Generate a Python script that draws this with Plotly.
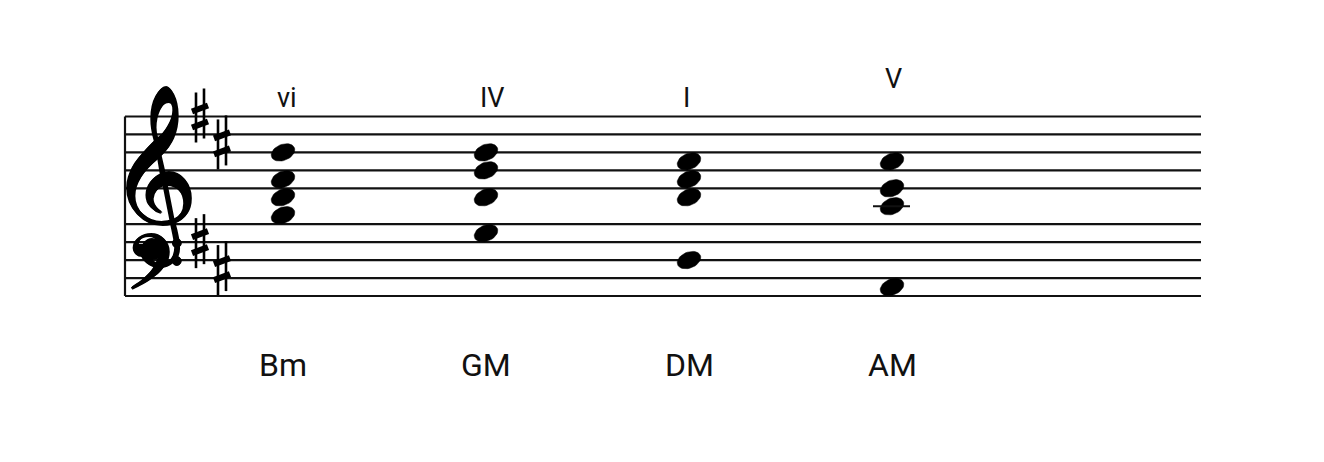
import numpy as np
import plotly.graph_objects as go

# chord data: pitches as diatonic steps from middle C (C4 = 0)
chord_names = ['Bm', 'GM', 'DM', 'AM']
roman_numerals = ['vi', 'IV', 'I', 'V']
chord_pitches = [
    [-1, 1, 3, 6],    # B3 D4 F#4 B4
    [-3, 1, 4, 6],    # G3 D4 G4 B4
    [-6, 1, 3, 5],    # D3 D4 F#4 A4
    [-9, 0, 2, 5],    # A2 C#4 E4 A4
]
treble_lines = [2, 4, 6, 8, 10]        # E4 G4 B4 D5 F5
bass_lines = [-10, -8, -6, -4, -2]     # G2 B2 D3 F3 A3
key_sharps_treble = [10, 7]            # F5, C5
key_sharps_bass = [-4, -7]             # F3, C3

# page body has an 8px margin, so the figure is a bit smaller than the window
PAGE_MARGIN = 8
W, H = 1324 - 2 * PAGE_MARGIN, 462 - 2 * PAGE_MARGIN
PX_X = 203.0      # pixels per chord slot
PX_Y = 8.975      # pixels per diatonic step
X0 = -(283.0 - PAGE_MARGIN) / PX_X
Y_TOP = (206.25 - PAGE_MARGIN) / PX_Y


def px(dx):
    return dx / PX_X


def py(dy):
    return dy / PX_Y


def ypix(p):
    # window pixel row -> step value
    return (206.25 - p) / PX_Y


fig = go.Figure()

# staff lines
x_start, x_end = px(125 - 283), px(1201 - 283)
sx, sy = [], []
for ln in treble_lines + bass_lines:
    sx += [x_start, x_end, None]
    sy += [ln, ln, None]
fig.add_trace(go.Scatter(x=sx, y=sy, mode='lines', line=dict(color='#111', width=2.2),
                         hoverinfo='skip', showlegend=False))
# left barline
fig.add_trace(go.Scatter(x=[x_start, x_start], y=[bass_lines[0], treble_lines[-1]], mode='lines',
                         line=dict(color='#111', width=2.2), hoverinfo='skip', showlegend=False))

# noteheads as tilted ellipses
t = np.linspace(0, 2 * np.pi, 40)
a, b, th = 12.3, 8.0, np.radians(22)
ex = a * np.cos(t) * np.cos(th) - b * np.sin(t) * np.sin(th)
ey = a * np.cos(t) * np.sin(th) + b * np.sin(t) * np.cos(th)
nx, ny = [], []
lx, ly = [], []
for i, notes in enumerate(chord_pitches):
    for p in notes:
        nx += list(i + px(ex)) + [None]
        ny += list(p + py(ey)) + [None]
        if p == 0:
            lx += [i - px(19), i + px(18), None]
            ly += [0, 0, None]
fig.add_trace(go.Scatter(x=nx, y=ny, mode='lines', fill='toself', fillcolor='#000',
                         line=dict(color='#000', width=0.5), hoverinfo='skip', showlegend=False))
fig.add_trace(go.Scatter(x=lx, y=ly, mode='lines', line=dict(color='#111', width=2),
                         hoverinfo='skip', showlegend=False))

# key signature sharps
vx, vy, bx, by = [], [], [], []
for k, p in enumerate(key_sharps_treble + key_sharps_bass):
    cx = px(200 - 283) + (k % 2) * px(22)
    for dx, y0, y1 in [(-4, 24, -26), (4, 28, -22)]:
        vx += [cx + px(dx), cx + px(dx), None]
        vy += [p + py(y0), p + py(y1), None]
    for y0, y1 in [(5, 11), (-11, -5)]:
        bx += [cx + px(-8), cx + px(8), None]
        by += [p + py(y0), p + py(y1), None]
fig.add_trace(go.Scatter(x=vx, y=vy, mode='lines', line=dict(color='#000', width=2.6),
                         hoverinfo='skip', showlegend=False))
fig.add_trace(go.Scatter(x=bx, y=by, mode='lines', line=dict(color='#000', width=6),
                         hoverinfo='skip', showlegend=False))

# clefs (slight shadow to thicken the strokes)
bold = '0.7px 0 0 #000, -0.7px 0 0 #000, 0 0.7px 0 #000, 0 -0.7px 0 #000'
fig.add_annotation(x=px(153.5 - 283), y=ypix(175), text='\U0001D11E', showarrow=False,
                   font=dict(size=151, color='#000', family='DejaVu Sans', shadow=bold))
fig.add_annotation(x=px(154.5 - 283), y=ypix(272), text='\U0001D122', showarrow=False,
                   font=dict(size=92, color='#000', family='DejaVu Sans', shadow=bold))

# roman numerals and chord names
roman_y = [98, 98, 98, 79]
roman_dx = [4, 6, -3, 1]
for i, (rn, ry, rdx) in enumerate(zip(roman_numerals, roman_y, roman_dx)):
    fig.add_annotation(x=i + px(rdx), y=ypix(ry), text=rn, showarrow=False,
                       font=dict(size=27, color='#111', family='Roboto'))
for i, nm in enumerate(chord_names):
    fig.add_annotation(x=i, y=ypix(365), text=nm, showarrow=False,
                       font=dict(size=32, color='#111', family='Roboto'))

fig.update_layout(
    width=W, height=H,
    margin=dict(l=0, r=0, t=0, b=0),
    plot_bgcolor='white', paper_bgcolor='white',
    xaxis=dict(range=[X0, X0 + W / PX_X], visible=False, fixedrange=True),
    yaxis=dict(range=[Y_TOP - H / PX_Y, Y_TOP], visible=False, fixedrange=True),
)

fig.write_html("out.html")
